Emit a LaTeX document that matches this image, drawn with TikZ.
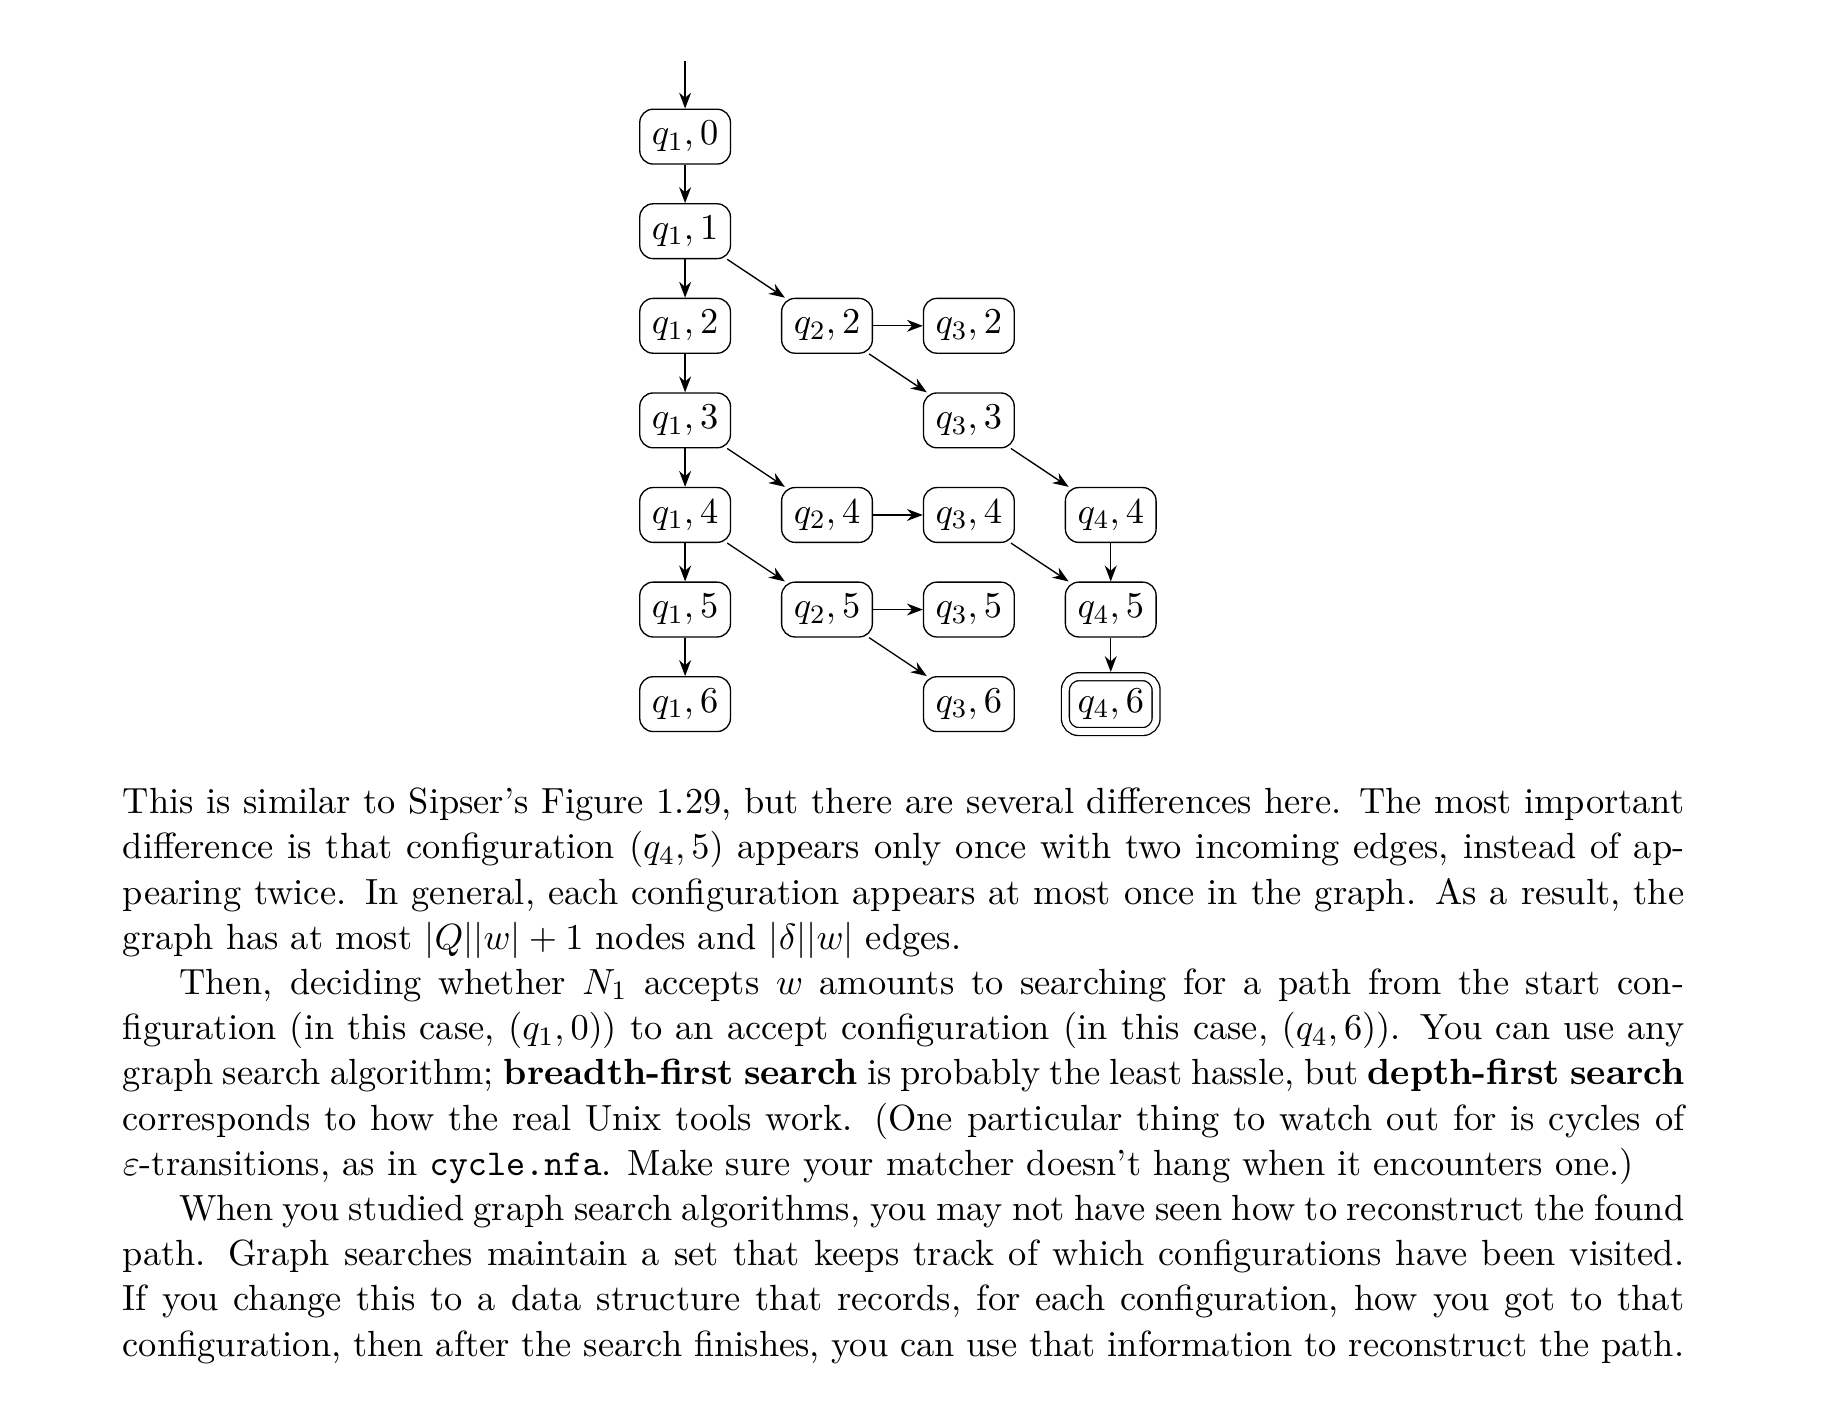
\documentclass[11pt,tikz,border=0pt]{standalone}
\usetikzlibrary{arrows.meta,positioning}
\begin{document}
\begin{tikzpicture}[>=Stealth]
\tikzstyle{cfg}=[draw,rounded corners]
\tikzstyle{acc}=[cfg,double,double distance=2pt,outer sep=1.4pt]
\useasboundingbox (-206.1pt,41.1pt) rectangle (343.2pt,-384.9pt);
\foreach \j in {0,...,6} \node[cfg] (q1\j) at (0,-\j) {$q_1,\j$};
\foreach \j in {2,4,5} \node[cfg] (q2\j) at (1.5,-\j) {$q_2,\j$};
\foreach \j in {2,...,6} \node[cfg] (q3\j) at (3,-\j) {$q_3,\j$};
\foreach \j in {4,5} \node[cfg] (q4\j) at (4.5,-\j) {$q_4,\j$};
\node[acc] (q46) at (4.5,-6) {$q_4,6$};
\coordinate[above=3ex of q10] (start);
\draw[->] (start) -- (q10);
\foreach \a/\b in {q10/q11,q11/q12,q11/q22,q12/q13,q22/q32,q22/q33,q13/q14,q13/q24,q33/q44,q24/q34,q14/q15,q14/q25,q34/q45,q44/q45,q25/q35,q25/q36,q15/q16,q45/q46} \draw[->] (\a) -- (\b);
\node[text width=469.75pt,align=justify,anchor=base west,inner sep=0pt] (para) at (-169.35pt,-203.65pt) {\setlength{\parindent}{17pt}\noindent This is similar to Sipser's Figure 1.29, but there are several differences here. The most important\linebreak
difference is that configuration $(q_4,5)$ appears only once with two incoming edges, instead of ap-\linebreak
pearing twice. In general, each configuration appears at most once in the graph. As a result, the\linebreak
graph has at most $|Q||w|+1$ nodes and $|\delta||w|$ edges.\par
Then, deciding whether $N_1$ accepts $w$ amounts to searching for a path from the start con-\linebreak
figuration (in this case, $(q_1,0)$) to an accept configuration (in this case, $(q_4,6)$). You can use any\linebreak
graph search algorithm; \textbf{breadth-first search} is probably the least hassle, but \textbf{depth-first search}\linebreak
corresponds to how the real Unix tools work. (One particular thing to watch out for is cycles of\linebreak
$\varepsilon$-transitions, as in \texttt{cycle.nfa}. Make sure your matcher doesn't hang when it encounters one.)\par
When you studied graph search algorithms, you may not have seen how to reconstruct the found\linebreak
path. Graph searches maintain a set that keeps track of which configurations have been visited.\linebreak
If you change this to a data structure that records, for each configuration, how you got to that\linebreak
configuration, then after the search finishes, you can use that information to reconstruct the path.};
\end{tikzpicture}
\end{document}
